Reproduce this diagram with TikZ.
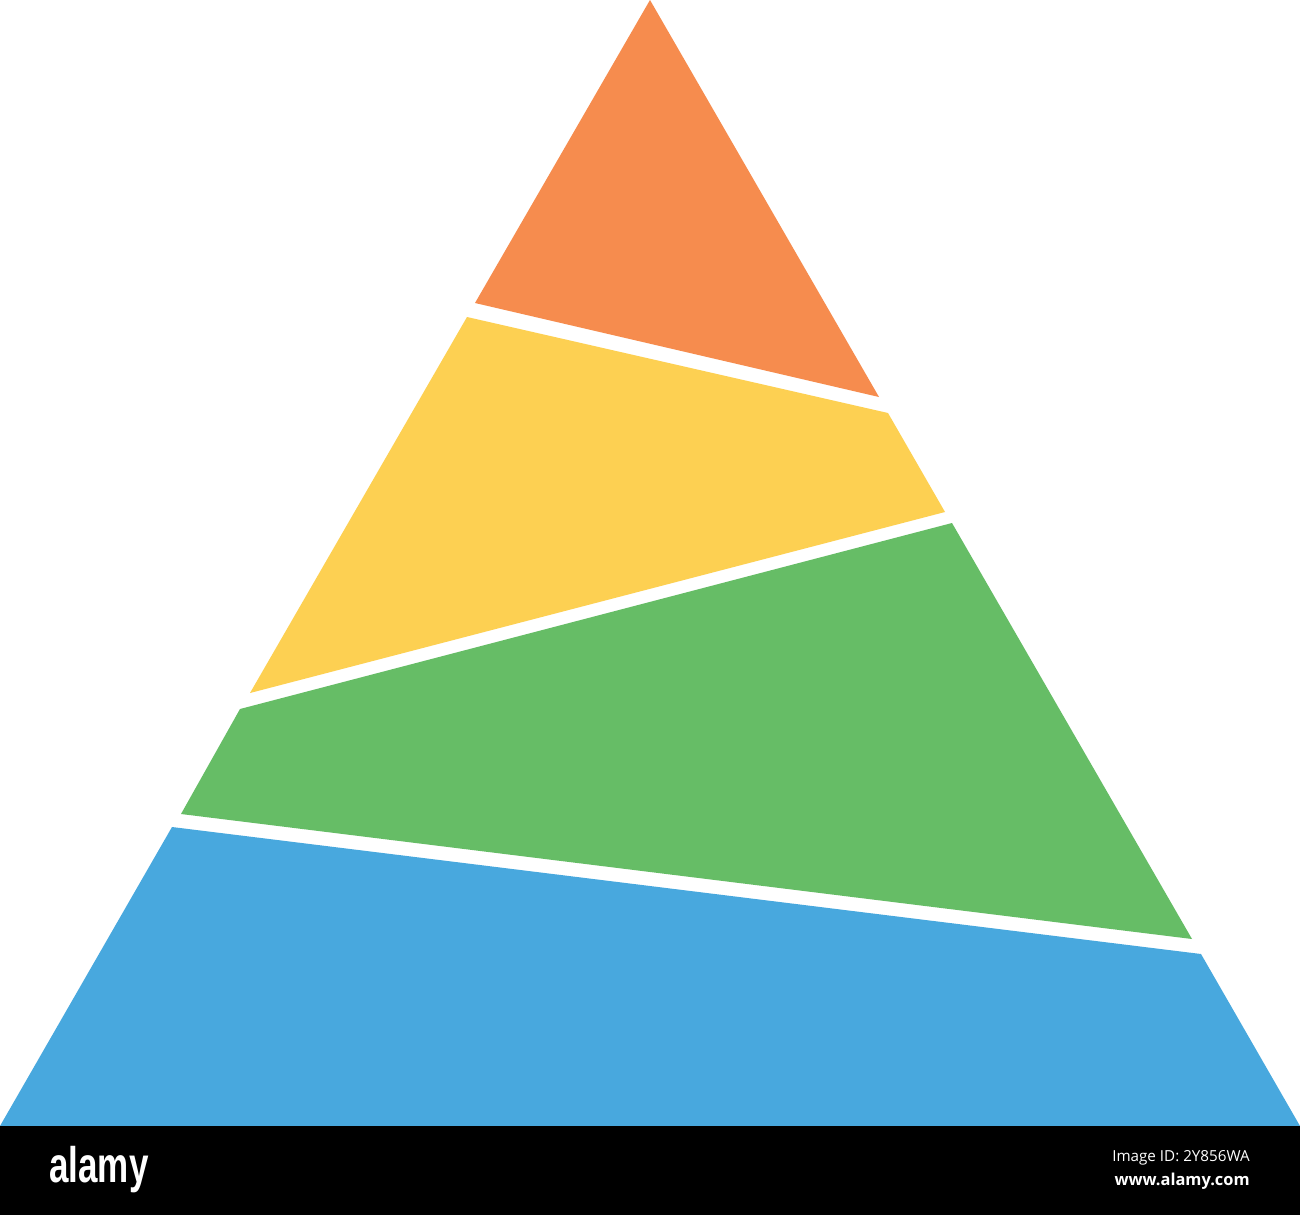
\documentclass[tikz,border=0pt]{standalone}
\usepackage{fontspec}
\setmainfont{Open Sans}
\newfontfamily\logofont{Liberation Sans}
\definecolor{layerorange}{RGB}{246,140,78}
\definecolor{layeryellow}{RGB}{253,208,82}
\definecolor{layergreen}{RGB}{102,189,102}
\definecolor{layerblue}{RGB}{72,168,222}
\begin{document}
\begin{tikzpicture}[x=0.5pt,y=-0.5pt,
  layer/.style={draw=none},
  bartext/.style={text=white,inner sep=0pt}]
\useasboundingbox (0,0) rectangle (1300,1215);
\fill[white] (0,0) rectangle (1300,1215);
% layers
\fill[layer,layerorange] (650,0) -- (475,303) -- (879,397) -- cycle;
\fill[layer,layeryellow] (467,317) -- (888,413) -- (945,512) -- (250,693) -- cycle;
\fill[layer,layergreen] (240,709) -- (952,523) -- (1192,939) -- (181,814) -- cycle;
\fill[layer,layerblue] (172,827) -- (1201,954) -- (1300,1126) -- (0,1126) -- cycle;
% bottom bar
\fill[black] (0,1126) rectangle (1300,1215);
\node[bartext,anchor=west,font=\logofont\bfseries\fontsize{25}{25}\selectfont,xscale=0.7] (logo) at (49,1170) {alamy};
\node[bartext,anchor=east,font=\fontsize{7.6}{9}\selectfont] (imgid) at (1250,1158) {Image ID: 2Y856WA};
\node[bartext,anchor=east,font=\bfseries\fontsize{8.2}{10}\selectfont] (url) at (1250,1181) {www.alamy.com};
\end{tikzpicture}
\end{document}
